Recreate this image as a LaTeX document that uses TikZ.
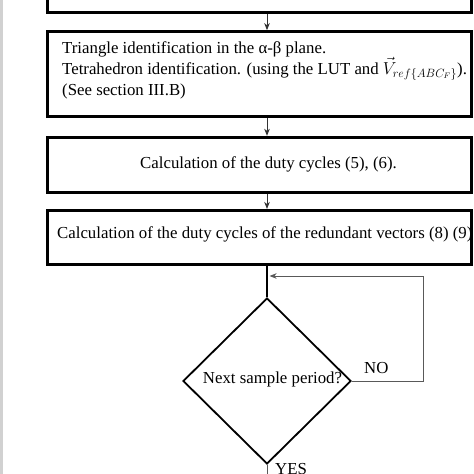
\documentclass[tikz,border=0pt]{standalone}
\usepackage{fontspec}
\setmainfont{Liberation Serif}
\usepackage{xcolor}
\usetikzlibrary{arrows,arrows.meta,shapes.geometric}

\begin{document}
\begin{tikzpicture}[x=1pt,y=-1pt]
  \tikzset{StepBox/.style  = {draw=black, line width=3pt, fill=white,
                              minimum width=424pt, inner sep=0pt},
           StepText/.style = {font=\fontsize{16.8}{21}\selectfont,
                              inner sep=0pt},
           Decision/.style = {diamond, draw=black, line width=1.8pt,
                              minimum width=168pt, minimum height=166pt,
                              inner sep=0pt},
           FlowTip/.style  = {-{Stealth[length=7pt,width=5.5pt,inset=2pt]}},
           EdgeStyle/.style = {FlowTip, line width=1pt, color=black!80},
           LoopStyle/.style = {line width=1pt, color=black!65}}

\useasboundingbox (0,0) rectangle (474,474);
\clip (0,0) rectangle (474,474);
\fill[black!18] (0,0) rectangle (2.5,474);

%part prev
\node[StepBox, minimum height=60pt] (prev) at (259.5,-17.5) {};

%part ident
\node[StepBox, minimum height=85pt] (ident) at (259.5,74.2) {};
\node[StepText, anchor=north west, align=left] (identtext) at (62,41)
  {Triangle identification in the α-β plane.\\
   Tetrahedron identification. (using the LUT and $\vec{V}_{ref\{ABC_F\}}$).\\
   (See section III.B)};

%part duty
\node[StepBox, minimum height=54.7pt] (duty) at (259.5,164.7) {};
\node[StepText, anchor=base] (dutytext) at (268.5,168)
  {Calculation of the duty cycles (5), (6).};

% part redund
\node[StepBox, minimum height=54pt] (redund) at (259.5,237.5) {};
\node[StepText, anchor=base west] (redundtext) at (57,238)
  {Calculation of the duty cycles of the redundant vectors (8) (9)};

% part next
\node[Decision] (next) at (267,381) {};
\node[StepText, anchor=base] (nexttext) at (272.5,383) {Next sample period?};
\node[StepText, anchor=base west] (no) at (364,373) {NO};
\node[StepText, anchor=base west] (yes) at (275,474) {YES};

\coordinate (join) at (268,276);
\coordinate (loopcorner) at (423,276);
\coordinate (exit) at (267,480);

% edges
\draw[EdgeStyle] (prev.south -| next.north) -- (ident.north -| next.north);
\draw[EdgeStyle] (ident.south -| next.north) -- (duty.north -| next.north);
\draw[EdgeStyle] (duty.south -| next.north) -- (redund.north -| next.north);
\draw[line width=1.8pt] (redund.south -| next.north) -- (next.north);
\draw[LoopStyle, FlowTip] (next.east) -| (loopcorner) -- ([xshift=1.5pt]join);
\draw[LoopStyle] (next.south) -- (exit);

\end{tikzpicture}
\end{document}
